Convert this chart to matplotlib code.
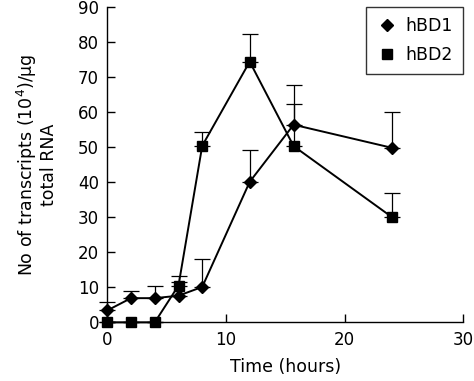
import numpy as np
import matplotlib
matplotlib.use("Agg")
import matplotlib.pyplot as plt

# ===== DATA =====
t_hbd1 = [0, 2, 4, 6, 8, 12, 15.7, 24]
hbd1 = [3.4, 6.9, 6.9, 7.6, 10.1, 40.1, 56.4, 49.8]
hbd1_err = [2.5, 2.0, 3.4, 4.0, 8.1, 9.1, 11.3, 10.2]

t_hbd2 = [0, 2, 4, 6, 8, 12, 15.7, 24]
hbd2 = [0, 0, 0, 10.5, 50.4, 74.4, 50.3, 30.0]
hbd2_err = [0, 0, 0, 2.6, 3.9, 8.0, 12.0, 6.8]

x_ticks = [0, 10, 20, 30]
y_ticks = [0, 10, 20, 30, 40, 50, 60, 70, 80, 90]

# ===== FIGURE =====
fig = plt.figure(figsize=(4.74, 3.81), dpi=100)
ax = fig.add_axes([0.2264, 0.154, 0.751, 0.8276])

zeros1 = np.zeros(len(hbd1_err))
zeros2 = np.zeros(len(hbd2_err))

ax.errorbar(t_hbd1, hbd1, yerr=[zeros1, hbd1_err], fmt='-', color='black',
            lw=1.4, elinewidth=0.9, capsize=6, capthick=0.9, clip_on=False,
            zorder=2)
ax.errorbar(t_hbd2, hbd2, yerr=[zeros2, hbd2_err], fmt='-', color='black',
            lw=1.4, elinewidth=0.9, capsize=6, capthick=0.9, clip_on=False,
            zorder=2)

ax.plot(t_hbd1, hbd1, linestyle='none', marker='D', ms=6.5, color='black',
        clip_on=False, zorder=3, label='hBD1')
ax.plot(t_hbd2, hbd2, linestyle='none', marker='s', ms=7.2, color='black',
        clip_on=False, zorder=3, label='hBD2')

ax.set_xlim(0, 30)
ax.set_ylim(0, 90)
ax.set_xticks(x_ticks)
ax.set_yticks(y_ticks)

for s in ['top', 'right']:
    ax.spines[s].set_visible(False)
for s in ['left', 'bottom']:
    ax.spines[s].set_linewidth(1.0)

ax.tick_params(direction='in', length=6, width=1.0, labelsize=12, pad=6)

ax.set_xlabel('Time (hours)', fontsize=12.5, labelpad=7)
ax.set_ylabel('No of transcripts (10$^4$)/µg\ntotal RNA', fontsize=12.5,
              labelpad=14, linespacing=1.1)

leg = ax.legend(loc='upper right', bbox_to_anchor=(1.0, 1.0), fontsize=12.5,
                frameon=True, fancybox=False, edgecolor='black',
                handletextpad=0.4, handlelength=1.3, borderpad=0.6,
                labelspacing=0.6, borderaxespad=0.0)
leg.get_frame().set_linewidth(1.0)

fig.savefig('out.png', dpi=100)
